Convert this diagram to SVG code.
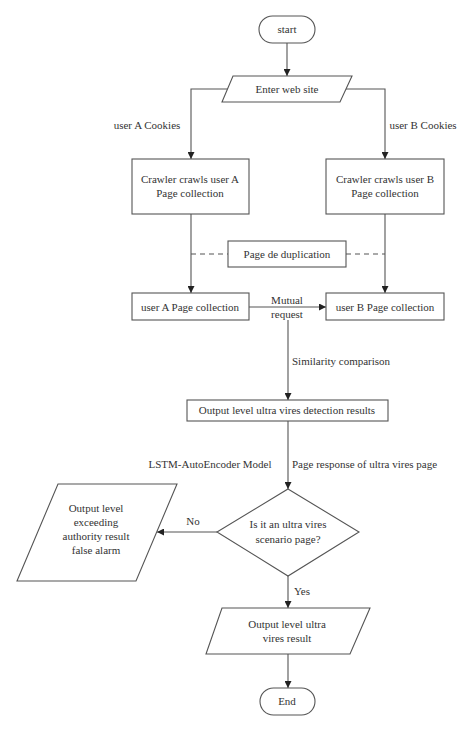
<svg xmlns="http://www.w3.org/2000/svg" width="474" height="732" viewBox="0 0 474 732">
<style>
.s{fill:#fff;stroke:#555;stroke-width:1.1}
.l{fill:none;stroke:#555;stroke-width:1.1}
.d{fill:none;stroke:#555;stroke-width:1.1;stroke-dasharray:5,4}
text{font-family:"Liberation Serif","Times New Roman",serif;font-size:11px;fill:#333;text-anchor:middle}
.lt{text-anchor:start}
</style>
<defs>
<marker id="a" viewBox="0 0 10 10" refX="10" refY="5" markerWidth="7" markerHeight="7" orient="auto" markerUnits="userSpaceOnUse">
<path d="M0,0L10,5L0,10z" fill="#222"/>
</marker>
</defs>
<rect width="474" height="732" fill="#fff"/>
<g id="connectors">
<path class="l" d="M287,43V76" marker-end="url(#a)"/>
<path class="l" d="M228,89H191V159" marker-end="url(#a)"/>
<path class="l" d="M346,89H385V159" marker-end="url(#a)"/>
<path class="l" d="M191,214V293" marker-end="url(#a)"/>
<path class="l" d="M385,214V293" marker-end="url(#a)"/>
<path class="d" d="M191,254H228"/>
<path class="d" d="M346,254H385"/>
<path class="l" d="M249,307H326" marker-end="url(#a)"/>
<path class="l" d="M288,320V400" marker-end="url(#a)"/>
<path class="l" d="M288,421V489" marker-end="url(#a)"/>
<path class="l" d="M217,532H157" marker-end="url(#a)"/>
<path class="l" d="M288,576V608" marker-end="url(#a)"/>
<path class="l" d="M288,654V688" marker-end="url(#a)"/>
<text x="147" y="129">user A Cookies</text>
<text x="423" y="129">user B Cookies</text>
<text x="287" y="304">Mutual</text>
<text x="287" y="318">request</text>
<text class="lt" x="292" y="365">Similarity comparison</text>
<text x="210" y="468">LSTM-AutoEncoder Model</text>
<text class="lt" x="292" y="468">Page response of ultra vires page</text>
<text x="193" y="525">No</text>
<text x="302" y="595">Yes</text>
</g>
<g id="start">
<rect class="s" x="259" y="16" width="56" height="27" rx="13.5"/>
<text x="287" y="33">start</text>
</g>
<g id="enter">
<polygon class="s" points="233,76 352,76 340,102 222,102"/>
<text x="287" y="93">Enter web site</text>
</g>
<g id="crawlA">
<rect class="s" x="132" y="159" width="117" height="55"/>
<text x="190" y="183">Crawler crawls user A</text>
<text x="190" y="197">Page collection</text>
</g>
<g id="crawlB">
<rect class="s" x="326" y="159" width="118" height="55"/>
<text x="385" y="183">Crawler crawls user B</text>
<text x="385" y="197">Page collection</text>
</g>
<g id="dedup">
<rect class="s" x="228" y="241" width="118" height="26"/>
<text x="287" y="258">Page de duplication</text>
</g>
<g id="pageA">
<rect class="s" x="132" y="293" width="117" height="27"/>
<text x="190" y="311">user A Page collection</text>
</g>
<g id="pageB">
<rect class="s" x="326" y="293" width="118" height="27"/>
<text x="385" y="311">user B Page collection</text>
</g>
<g id="detect">
<rect class="s" x="187" y="400" width="201" height="21"/>
<text x="287" y="414">Output level ultra vires detection results</text>
</g>
<g id="decision">
<polygon class="s" points="288,489 359,532 288,576 217,532"/>
<text x="288" y="528">Is it an ultra vires</text>
<text x="288" y="543">scenario page?</text>
</g>
<g id="falseAlarm">
<polygon class="s" points="58,484 177,484 136,581 17,581"/>
<text x="96" y="512">Output level</text>
<text x="96" y="526">exceeding</text>
<text x="96" y="540">authority result</text>
<text x="96" y="554">false alarm</text>
</g>
<g id="result">
<polygon class="s" points="222,608 370,608 350,654 206,654"/>
<text x="287" y="628">Output level ultra</text>
<text x="287" y="642">vires result</text>
</g>
<g id="end">
<rect class="s" x="260" y="688" width="55" height="27" rx="13.5"/>
<text x="287" y="705">End</text>
</g>
</svg>
